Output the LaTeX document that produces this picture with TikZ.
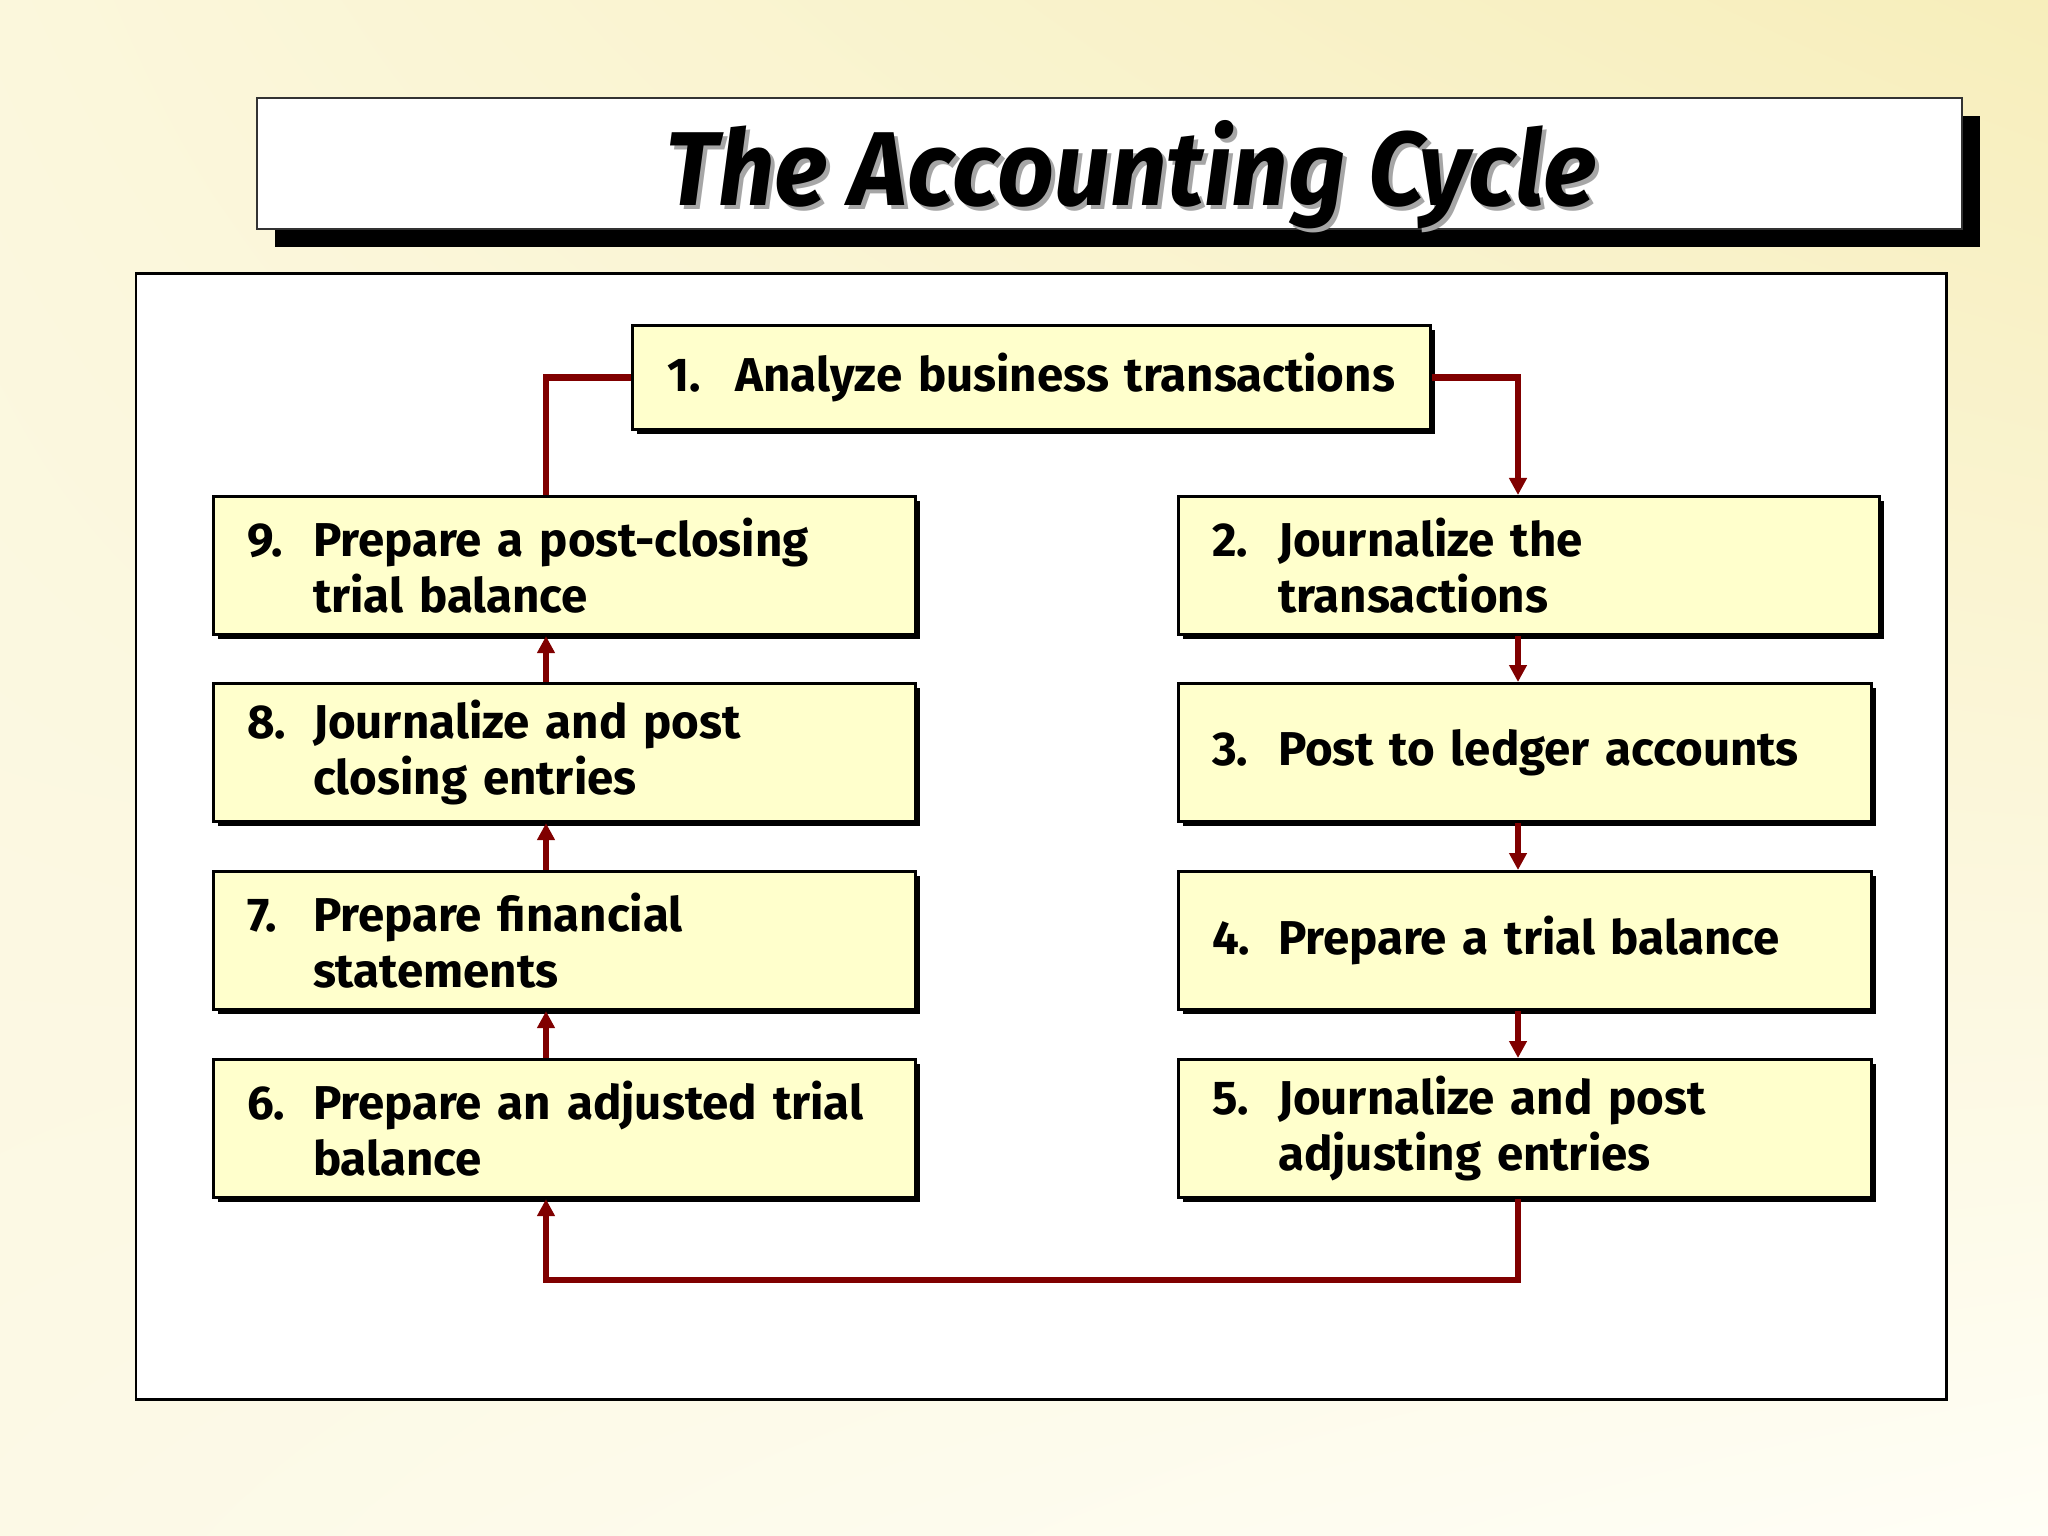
\documentclass[tikz,border=0pt]{standalone}
\usepackage{fontspec}
\setmainfont{Fira Sans}
\usetikzlibrary{arrows.meta,shadows,shadings}
\definecolor{boxfill}{HTML}{FFFFCC}
\definecolor{linkred}{HTML}{800000}
\definecolor{bgUL}{HTML}{FBF7DC}
\definecolor{bgUR}{HTML}{F7EEBB}
\definecolor{bgLL}{HTML}{FCF9E6}
\definecolor{bgLR}{HTML}{FFFEF6}
\newlength\numw
\setlength\numw{0.66cm}
\newcommand\stepnum[1]{\makebox[\numw][l]{#1}}
\begin{document}
\begin{tikzpicture}[x=0.01cm,y=-0.01cm,
  stepbox/.style={draw=black, line width=0.85pt, fill=boxfill,
    general shadow={fill=black, shadow xshift=0.045cm, shadow yshift=-0.045cm},
    anchor=north west, align=left, inner xsep=0.335cm, inner ysep=0pt,
    minimum height=1.38cm, font=\bfseries\fontsize{13.5}{16}\selectfont},
  link/.style={draw=linkred, line width=1.9pt},
  tip/.style={-{Triangle[length=0.17cm,width=0.17cm]}},
  titletext/.style={anchor=base, font=\fontsize{29}{34}\selectfont\bfseries\itshape}]
\useasboundingbox (0,0) rectangle (2048,1536);
\shade[upper left=bgUL, upper right=bgUR, lower left=bgLL, lower right=bgLR] (0,0) rectangle (2048,1536);
% title
\fill[black] (275,116) rectangle (1980,247);
\draw[fill=white, line width=0.6pt, draw=black!80] (257,98) rectangle (1962,229);
\node[titletext, text=black!35] (titleshadow) at (1135,209) {\scalebox{0.975}[1.03]{The Accounting Cycle}};
\node[titletext, text=black] (title) at (1131,205) {\scalebox{0.975}[1.03]{The Accounting Cycle}};
% panel
\draw[fill=white, line width=0.85pt] (136,273) rectangle (1946,1399);
% boxes
\node[stepbox, text width=7.28cm, minimum height=1.04cm, inner xsep=0.35cm] (b1) at (631,324)
  {\mbox{\makebox[0.68cm][l]{1.}Analyze business transactions}};
\node[stepbox, text width=6.35cm] (b9) at (212,495)
  {\mbox{\stepnum{9.}Prepare a post-closing}\\\mbox{\hspace*{\numw}trial balance}};
\node[stepbox, text width=6.35cm] (b8) at (212,682)
  {\mbox{\stepnum{8.}Journalize and post}\\\mbox{\hspace*{\numw}closing entries}};
\node[stepbox, text width=6.35cm] (b7) at (212,870)
  {\mbox{\stepnum{7.}Prepare financial}\\\mbox{\hspace*{\numw}statements}};
\node[stepbox, text width=6.35cm] (b6) at (212,1058)
  {\mbox{\stepnum{6.}Prepare an adjusted trial}\\\mbox{\hspace*{\numw}balance}};
\node[stepbox, text width=6.34cm] (b2) at (1177,495)
  {\mbox{\stepnum{2.}Journalize the}\\\mbox{\hspace*{\numw}transactions}};
\node[stepbox, text width=6.26cm] (b3) at (1177,682)
  {\mbox{\stepnum{3.}Post to ledger accounts}};
\node[stepbox, text width=6.26cm] (b4) at (1177,870)
  {\mbox{\stepnum{4.}Prepare a trial balance}};
\node[stepbox, text width=6.26cm] (b5) at (1177,1058)
  {\mbox{\stepnum{5.}Journalize and post}\\\mbox{\hspace*{\numw}adjusting entries}};
% connector columns
\coordinate (lx) at (546,0);
\coordinate (rx) at (1518,0);
\coordinate (by) at (0,1280);
\draw[link] (b1.west) -| (b9.north -| lx);
\draw[link, tip] (b1.east) -| (b2.north -| rx);
\draw[link, tip] (b2.south -| rx) -- (b3.north -| rx);
\draw[link, tip] (b3.south -| rx) -- (b4.north -| rx);
\draw[link, tip] (b4.south -| rx) -- (b5.north -| rx);
\draw[link, tip] (b5.south -| rx) -- (rx |- by) -- (lx |- by) -- (b6.south -| lx);
\draw[link, tip] (b6.north -| lx) -- (b7.south -| lx);
\draw[link, tip] (b7.north -| lx) -- (b8.south -| lx);
\draw[link, tip] (b8.north -| lx) -- (b9.south -| lx);
\end{tikzpicture}
\end{document}
